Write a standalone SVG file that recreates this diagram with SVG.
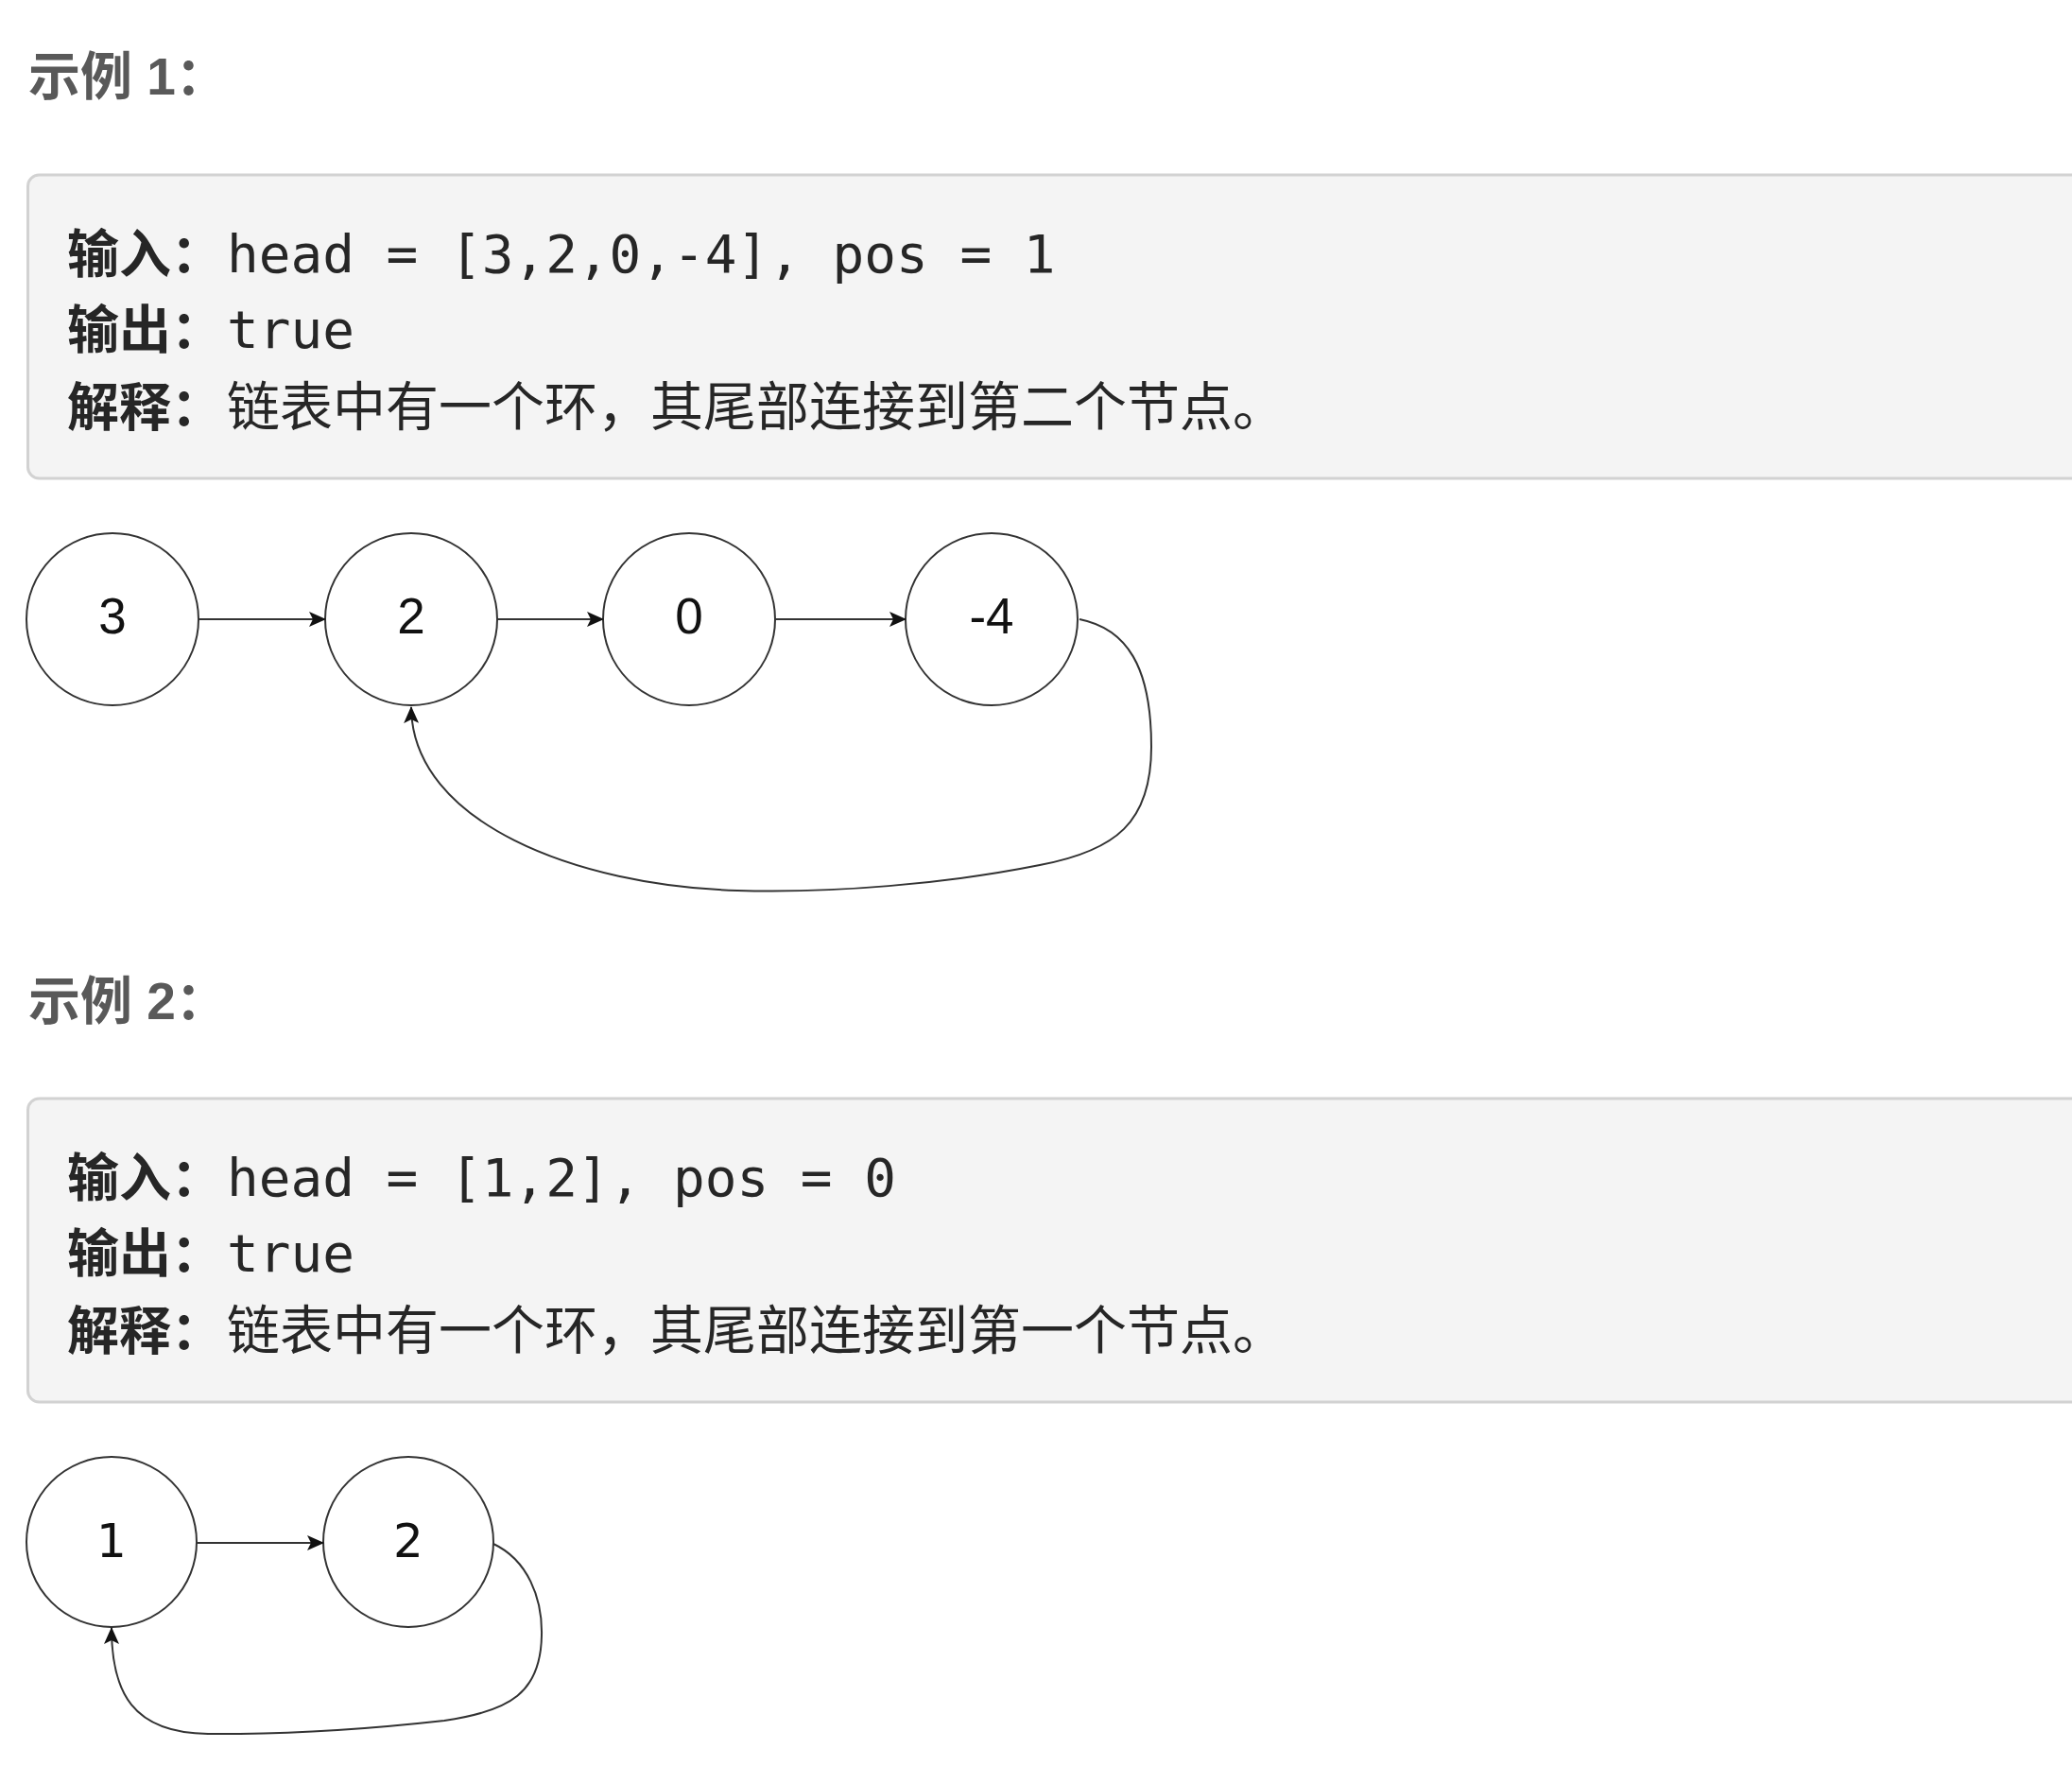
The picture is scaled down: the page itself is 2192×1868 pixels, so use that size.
<svg xmlns="http://www.w3.org/2000/svg" width="2192" height="1868" viewBox="0 0 2192 1868">
<style>
.h{font-family:"Liberation Sans","Noto Sans CJK SC",sans-serif;font-weight:bold;font-size:55px;fill:#595959}
.box{fill:#f4f4f4;stroke:#d2d2d2;stroke-width:3}
.lbl{font-family:"Noto Sans CJK SC",sans-serif;font-weight:bold;font-size:55px;fill:#262626}
.code{font-family:"DejaVu Sans Mono","Liberation Mono",monospace;font-size:56px;fill:#262626}
.cjk{font-family:"Noto Sans CJK SC",sans-serif;font-size:56px;fill:#262626}
.node circle{fill:#ffffff;stroke:#333333;stroke-width:2}
.n1{font-family:"Liberation Sans",sans-serif;font-size:53px;fill:#111111;text-anchor:middle}
.n2{font-family:"DejaVu Sans",sans-serif;font-size:50px;fill:#111111;text-anchor:middle}
.edge{fill:none;stroke:#333333;stroke-width:2;marker-end:url(#arr)}
</style>
<defs>
<marker id="arr" viewBox="0 0 18 16" refX="17" refY="8" markerWidth="18" markerHeight="16" markerUnits="userSpaceOnUse" orient="auto">
<path d="M0 0 L18 8 L0 16 L4 8 Z" fill="#111111"/>
</marker>
</defs>
<rect width="2192" height="1868" fill="#ffffff"/>

<g id="example1">
<text class="h" x="30" y="100">示例 1：</text>
<rect class="box" x="29.5" y="185" width="2200" height="321" rx="12"/>
<text class="lbl" x="71" y="288">输入：</text>
<text class="code" x="240" y="288">head = [3,2,0,-4], pos = 1</text>
<text class="lbl" x="71" y="368">输出：</text>
<text class="code" x="240" y="368">true</text>
<text class="lbl" x="71" y="450">解释：</text>
<text class="cjk" x="240" y="450">链表中有一个环，其尾部连接到第二个节点。</text>
</g>

<g id="e1n3" class="node"><circle cx="119" cy="655" r="91"/><text class="n1" x="119" y="670">3</text></g>
<g id="e1n2" class="node"><circle cx="435" cy="655" r="91"/><text class="n1" x="435" y="670">2</text></g>
<g id="e1n0" class="node"><circle cx="729" cy="655" r="91"/><text class="n1" x="729" y="670">0</text></g>
<g id="e1n4" class="node"><circle cx="1049" cy="655" r="91"/><text class="n1" x="1049" y="670">-4</text></g>

<g id="example2">
<text class="h" x="30" y="1078">示例 2：</text>
<rect class="box" x="29.5" y="1162" width="2200" height="321" rx="12"/>
<text class="lbl" x="71" y="1265">输入：</text>
<text class="code" x="240" y="1265">head = [1,2], pos = 0</text>
<text class="lbl" x="71" y="1345">输出：</text>
<text class="code" x="240" y="1345">true</text>
<text class="lbl" x="71" y="1427">解释：</text>
<text class="cjk" x="240" y="1427">链表中有一个环，其尾部连接到第一个节点。</text>
</g>

<g id="e2n1" class="node"><circle cx="118" cy="1631" r="90"/><text class="n2" x="118" y="1647">1</text></g>
<g id="e2n2" class="node"><circle cx="432" cy="1631" r="90"/><text class="n2" x="432" y="1647">2</text></g>

<g id="connectors">
<path class="edge" d="M210 655 L344 655"/>
<path class="edge" d="M526 655 L638 655"/>
<path class="edge" d="M820 655 L958 655"/>
<path class="edge" d="M1142 655 C1192 665 1218 705 1218 790 C1218 870 1180 900 1100 915 C1000 935 880 945 780 942 C610 937 436 870 435 748"/>
<path class="edge" d="M208 1632 L342 1632"/>
<path class="edge" d="M522 1633 C558 1650 574 1690 573 1730 C572 1790 540 1810 470 1820 C380 1830 300 1835 220 1834 C140 1833 118 1790 118 1722"/>
</g>
</svg>
